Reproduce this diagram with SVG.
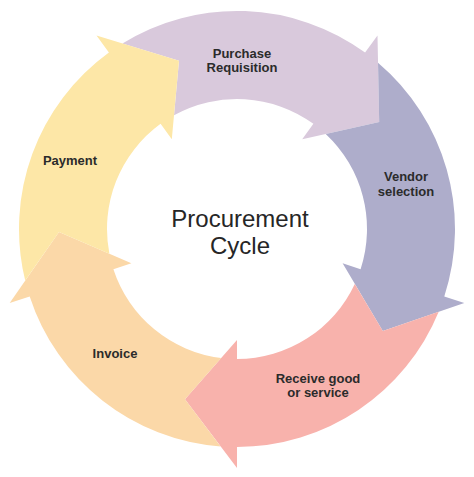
<svg xmlns="http://www.w3.org/2000/svg" width="474" height="477" viewBox="0 0 474 477">
<style>
.lbl{font-family:"Liberation Sans",Arial,sans-serif;font-weight:bold;font-size:13px;fill:#2b2b2b;text-anchor:middle}
.ttl{font-family:"Liberation Sans",Arial,sans-serif;font-size:24px;fill:#262626;text-anchor:middle}
</style>
<rect width="474" height="477" fill="#ffffff"/>
<g id="connectors"></g>
<g id="purchase">
<path fill="#D9C9DC" d="M122.4,43.5 A218,218 0 0 1 365.1,52.6 L377.5,35.6 L379.2,121.9 L302.2,139.2 L313.4,123.8 A130,130 0 0 0 174.0,115.3 L179.0,60.7 Z"/>
<text class="lbl" x="242" y="58">Purchase</text>
<text class="lbl" x="242" y="72">Requisition</text>
</g>
<g id="vendor">
<path fill="#AEADCB" d="M378.0,62.7 A218,218 0 0 1 444.3,296.4 L464.3,302.9 L382.8,331.1 L342.6,263.3 L360.6,269.2 A130,130 0 0 0 325.7,133.9 L379.2,121.9 Z"/>
<text class="lbl" x="406" y="181">Vendor</text>
<text class="lbl" x="406" y="196">selection</text>
</g>
<g id="receive">
<path fill="#F8B2AC" d="M438.7,311.7 A218,218 0 0 1 237,447 L237,468 L185.0,399.2 L237,340 L237,359 A130,130 0 0 0 354.8,283.9 L382.8,331.1 Z"/>
<text class="lbl" x="318" y="383">Receive good</text>
<text class="lbl" x="318" y="397">or service</text>
</g>
<g id="invoice">
<path fill="#FBD8A8" d="M220.6,446.4 A218,218 0 0 1 29.7,296.4 L9.7,302.9 L59.0,232.1 L131.4,263.3 L113.4,269.2 A130,130 0 0 0 221.2,358.0 L185.0,399.2 Z"/>
<text class="lbl" x="115" y="358">Invoice</text>
</g>
<g id="payment">
<path fill="#FDE7A7" d="M25.2,280.6 A218,218 0 0 1 108.9,52.6 L96.5,35.6 L179.0,60.7 L171.8,139.2 L160.6,123.8 A130,130 0 0 0 109.4,253.8 L59.0,232.1 Z"/>
<text class="lbl" x="70" y="165">Payment</text>
</g>
<g id="center">
<text class="ttl" x="240" y="227">Procurement</text>
<text class="ttl" x="240" y="254">Cycle</text>
</g>
</svg>
